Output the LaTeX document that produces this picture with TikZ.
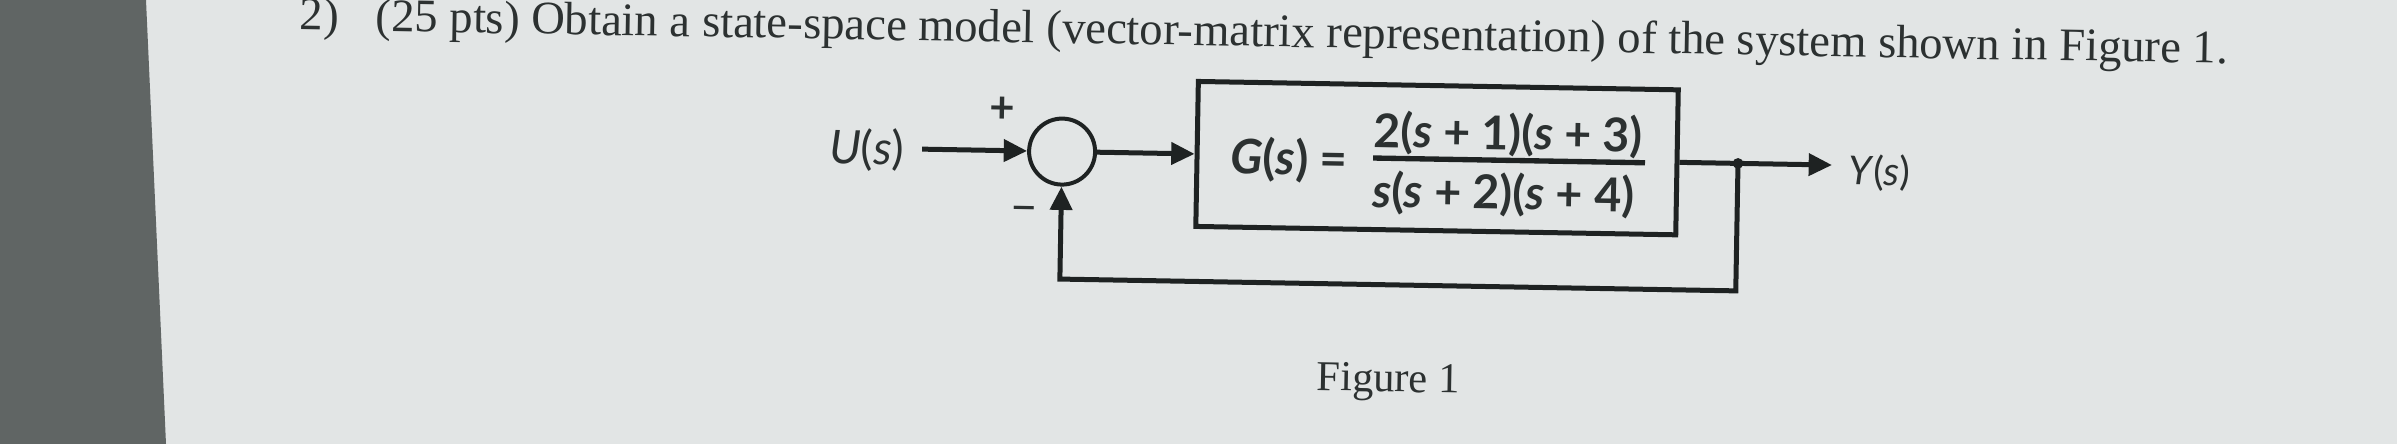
\documentclass[tikz,border=0pt]{standalone}
\usepackage{fontspec}
\usepackage{graphicx}
\setmainfont{Liberation Serif}
\newfontfamily\dfont{Lato}
\usetikzlibrary{arrows.meta}
\definecolor{paper}{RGB}{226,229,229}
\definecolor{band}{RGB}{96,101,100}
\definecolor{ink}{RGB}{44,49,49}
\definecolor{lineink}{RGB}{30,34,34}
\begin{document}
\begin{tikzpicture}[x=0.3pt,y=-0.3pt,
  sig/.style={line width=1.5pt, draw=lineink, -{Triangle[length=7pt,width=6.5pt]}},
  wire/.style={line width=1.5pt, draw=lineink},
  lbl/.style={inner sep=0pt, text=ink, font=\dfont},
  blk/.style={lbl, font=\dfont\bfseries},
  txt/.style={inner sep=0pt, text=ink, anchor=base west}]
\useasboundingbox (0,0) rectangle (2397,444);
\clip (0,0) rectangle (2397,444);
\fill[paper] (0,0) rectangle (2397,444);
\fill[band] (0,0) -- (146,0) -- (166,444) -- (0,444) -- cycle;
\begin{scope}[rotate around={-1:(1400,160)}, transform shape]
  % header and caption
  \node[txt] (hdr) at (297,49) {\resizebox{578.4pt}{!}{2)\hspace{0.8em}(25 pts) Obtain a state-space model (vector-matrix representation) of the system shown in Figure 1.}};
  \node[txt] (fig) at (1320,392) {\resizebox{42.9pt}{!}{Figure 1}};
  % blocks
  \node[circle, draw=lineink, line width=1.2pt, minimum size=19.8pt, inner sep=0pt] (sum) at (1062,157.5) {};
  \node[draw=lineink, line width=1.5pt, minimum width=144pt, minimum height=43.5pt, inner sep=0pt] (G) at (1437,157.5) {};
  % labels
  \node[lbl, anchor=east] (u) at (905,159) {\resizebox{22.5pt}{!}{\textit{U}(\textit{s})}};
  \node[lbl, anchor=west] (y) at (1848,164.6) {\resizebox{18.6pt}{!}{\textit{Y}(\textit{s})}};
  \node[blk] (plus) at (1002,117) {\resizebox{7.6pt}{!}{+}};
  \node[lbl, font=\dfont\fontsize{15pt}{15pt}\selectfont] (minus) at (1025,221.5) {–};
  % transfer function
  \node[blk, anchor=west] (gs) at (1230,162) {\resizebox{35.1pt}{!}{\textit{G}(\textit{s}) =}};
  \node[blk] (num) at (1508,133) {\resizebox{80.7pt}{!}{2(\textit{s} + 1)(\textit{s} + 3)}};
  \node[blk] (den) at (1504,193) {\resizebox{78.6pt}{!}{\textit{s}(\textit{s} + 2)(\textit{s} + 4)}};
  \coordinate (barL) at (1373,158.5);
  \coordinate (barR) at (1645,158.5);
  \draw[line width=1.6pt, draw=lineink] (barL) -- (barR);
  % connectors
  \coordinate (uin) at (922,157.5);
  \coordinate (j) at (1738,157.5);
  \coordinate (yend) at (1832,157.5);
  \coordinate (fb) at (1062,285);
  \draw[sig] (uin) -- (sum.west);
  \draw[sig] (sum.east) -- (G.west);
  \draw[sig] (G.east) -- (yend);
  \fill[lineink] (j) circle (1.6pt);
  \draw[sig] (j) |- (fb) -- (sum.south);
\end{scope}
\end{tikzpicture}
\end{document}
